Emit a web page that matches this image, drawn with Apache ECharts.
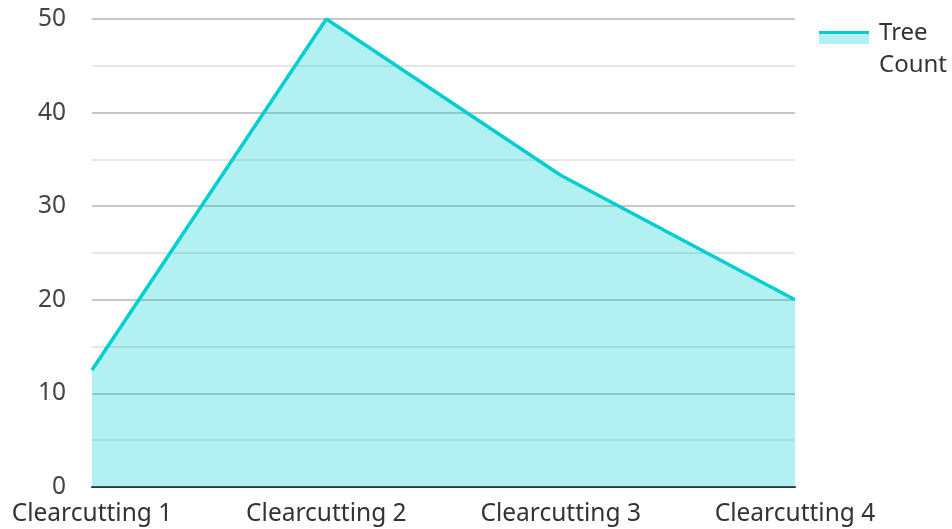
<!DOCTYPE html>
<html><head><meta charset="utf-8">
<script src="https://cdn.jsdelivr.net/npm/echarts@6/dist/echarts.min.js"></script>
<style>html,body{margin:0;padding:0;background:#fff}#c{width:952px;height:529px}</style>
</head><body><div id="c"></div>
<script>
var categories = ['Clearcutting 1', 'Clearcutting 2', 'Clearcutting 3', 'Clearcutting 4'];
var treeCount = [12.5, 50, 33.3, 20];
var seriesName = 'Tree Count';
var chart = echarts.init(document.getElementById('c'));
chart.setOption({
  animation: false,
  textStyle: {fontFamily: 'Noto Sans'},
  grid: {left: 92, right: 157, top: 19, bottom: 42},
  legend: {
    left: 814, top: 12, orient: 'vertical',
    itemWidth: 55, itemHeight: 36, itemGap: 10,
    icon: 'path://M0,0L50,0L50,13L0,13Z M55,36L55,36L55,36Z',
    itemStyle: {
      color: {type: 'linear', x: 0, y: 0, x2: 0, y2: 1, colorStops: [
        {offset: 0, color: '#00CED1'}, {offset: 0.09, color: '#00CED1'},
        {offset: 0.09, color: 'rgba(0,206,209,0.3)'}, {offset: 0.37, color: 'rgba(0,206,209,0.3)'},
        {offset: 0.37, color: 'rgba(0,206,209,0)'}, {offset: 1, color: 'rgba(0,206,209,0)'}
      ]}
    },
    textStyle: {fontSize: 24, color: '#333', width: 72, overflow: 'break', lineHeight: 32},
    data: [seriesName]
  },
  xAxis: {
    type: 'category', data: categories, boundaryGap: false,
    axisLine: {lineStyle: {color: '#333', width: 2}},
    axisTick: {show: false},
    axisLabel: {fontSize: 24.5, color: '#333', margin: 15}
  },
  yAxis: {
    type: 'value', min: 0, max: 50, interval: 10,
    axisLine: {show: false}, axisTick: {show: false},
    axisLabel: {fontSize: 24.5, color: '#444', margin: 26},
    splitLine: {lineStyle: {color: '#c8c8c8', width: 2}},
    minorTick: {show: false, splitNumber: 2},
    minorSplitLine: {show: true, lineStyle: {color: '#e6e6e6', width: 2}}
  },
  series: [{
    name: seriesName, type: 'line', data: treeCount,
    symbol: 'none', color: '#00CED1',
    lineStyle: {width: 3.5},
    areaStyle: {opacity: 0.3}
  }]
});
</script></body></html>
